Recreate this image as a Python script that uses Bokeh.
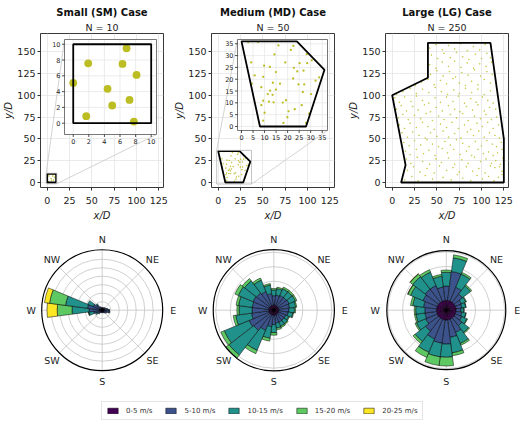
import math
from bokeh.plotting import figure
from bokeh.models import Range1d, FixedTicker, Title, Legend, LegendItem, ColumnDataSource
from bokeh.layouts import row, column
from bokeh.core.properties import value
from bokeh.embed import file_html
from bokeh.resources import INLINE

FONT = "DejaVu Sans"
OLIVE = "#bcbd22"

# ---------------- wind farm layouts (units of rotor diameter D) ----------------
sm_boundary_x = [0, 10, 10, 0]
sm_boundary_y = [0, 0, 10, 10]
sm_turbine_x = [6.84, 1.92, 6.32, 8.12, 0.0, 4.40, 5.0, 7.22, 1.67, 7.78]
sm_turbine_y = [9.49, 7.59, 7.51, 6.12, 5.1, 4.35, 2.24, 2.95, 0.89, 0.21]

md_boundary_x = [8, 28, 36, 24, 0]
md_boundary_y = [0, 0, 24, 36, 36]
md_turbine_x = [2.9, 7.2, 16.0, 21.4, 22.5, 14.3, 28.3, 4.2, 19.0, 9.8,
                12.3, 30.5, 25.2, 28.5, 14.9, 22.7, 33.7, 5.7, 9.4, 24.2,
                22.4, 26.9, 32.1, 4.4, 13.6, 16.7, 24.7, 27.2, 8.6, 12.4,
                14.9, 30.2, 26.6, 11.4, 13.5, 9.4, 11.9, 13.9, 8.6, 17.9,
                19.3, 26.1, 23.1, 10.0, 20.4, 29.3, 19.9, 9.4, 18.2, 28.0]
md_turbine_y = [35.7, 35.7, 34.3, 32.4, 34.1, 30.5, 30.6, 27.1, 27.1, 25.7,
                25.2, 28.0, 26.8, 26.8, 23.0, 24.8, 20.8, 21.6, 21.0, 23.3,
                20.3, 23.6, 19.4, 18.1, 18.5, 18.1, 17.8, 17.8, 16.6, 15.2,
                15.6, 13.7, 14.6, 13.7, 13.4, 10.9, 10.5, 10.2, 9.0, 10.1,
                11.1, 9.0, 7.3, 5.8, 6.4, 5.4, 3.9, 2.5, 1.5, 1.5]

lg_boundary_x = [10, 15, 0, 40, 40, 110, 125, 125]
lg_boundary_y = [0, 20, 100, 120, 160, 160, 50, 0]
lg_turbines = [
    (14, 3), (22, 7), (29, 2), (37, 8), (45, 4), (52, 1), (57, 6), (66, 3), (73, 9), (79, 5),
    (88, 2), (95, 8), (101, 4), (108, 7), (114, 2), (119, 6), (123, 9),
    (17, 14), (24, 18), (31, 12), (39, 16), (47, 11), (53, 19), (61, 14), (68, 17), (75, 12),
    (83, 18), (90, 13), (97, 16), (104, 11), (110, 19), (115, 17), (120, 18), (123, 13),
    (16, 27), (21, 22), (28, 29), (34, 24), (42, 21), (49, 27), (55, 23), (63, 28), (70, 21),
    (78, 26), (85, 22), (92, 29), (99, 24), (105, 27), (111, 22), (116, 25), (121, 21), (124, 28),
    (15, 36), (20, 32), (27, 38), (35, 33), (41, 37), (48, 31), (56, 39), (62, 34), (69, 38),
    (76, 32), (83, 36), (89, 31), (96, 38), (102, 33), (108, 35), (113, 31), (118, 34), (123, 38),
    (13, 46), (19, 42), (25, 48), (32, 43), (39, 49), (45, 44), (52, 41), (59, 47), (65, 43),
    (72, 49), (79, 45), (86, 41), (93, 47), (100, 42), (106, 48), (112, 44), (117, 41), (122, 46),
    (11, 57), (17, 52), (23, 58), (30, 54), (37, 51), (43, 57), (50, 53), (57, 59), (63, 52),
    (70, 56), (77, 51), (84, 58), (91, 54), (97, 59), (103, 52), (109, 57), (115, 54), (120, 51),
    (8, 66), (14, 62), (20, 68), (27, 63), (34, 69), (40, 64), (47, 61), (54, 67), (61, 63),
    (67, 69), (74, 62), (81, 66), (88, 61), (95, 68), (101, 64), (107, 69), (113, 62), (119, 66),
    (7, 74), (12, 78), (18, 72), (25, 77), (32, 73), (38, 79), (45, 71), (52, 76), (58, 72),
    (65, 78), (72, 74), (79, 79), (85, 71), (92, 76), (99, 73), (105, 78), (111, 72), (117, 75),
    (5, 84), (10, 88), (16, 82), (23, 87), (29, 83), (36, 89), (43, 81), (49, 86), (56, 82),
    (63, 88), (70, 84), (76, 81), (83, 87), (90, 83), (96, 89), (103, 82), (109, 86), (116, 84),
    (3, 97), (8, 92), (14, 98), (21, 93), (27, 99), (34, 94), (41, 91), (48, 97), (54, 92),
    (61, 98), (68, 93), (74, 99), (81, 91), (88, 96), (94, 92), (101, 98), (107, 94), (113, 91),
    (5, 101), (12, 104), (20, 108), (27, 102), (34, 107), (41, 103), (48, 109), (55, 104),
    (62, 101), (69, 106), (75, 102), (82, 108), (89, 103), (96, 107), (103, 101), (110, 105),
    (26, 111), (33, 115), (40, 118), (47, 112), (54, 117), (61, 113), (68, 119), (75, 114),
    (82, 111), (89, 116), (96, 112), (103, 118), (110, 114),
    (43, 124), (50, 128), (57, 122), (64, 127), (71, 121), (78, 126), (85, 123), (92, 129),
    (99, 122), (106, 127), (112, 124),
    (42, 135), (49, 131), (56, 138), (63, 133), (70, 139), (77, 132), (84, 137), (91, 131),
    (98, 136), (105, 133), (111, 138),
    (44, 146), (51, 142), (58, 148), (65, 143), (72, 149), (79, 144), (86, 141), (93, 147),
    (100, 142), (106, 148), (110, 143),
    (42, 154), (49, 158), (56, 152), (63, 157), (70, 153), (77, 159), (84, 151), (91, 156),
    (98, 152), (104, 158),
]
lg_turbine_x = [t[0] for t in lg_turbines]
lg_turbine_y = [t[1] for t in lg_turbines]

# ---------------- wind roses: frequency (%) per direction sector and speed bin ----------------
sectors_deg = [0, 15, 30, 45, 60, 75, 90, 105, 120, 135, 150, 165,
               180, 195, 210, 225, 240, 255, 270, 285, 300, 315, 330, 345]
speed_labels = ["0-5 m/s", "5-10 m/s", "10-15 m/s", "15-20 m/s", "20-25 m/s"]
speed_colors = ["#440154", "#3b528b", "#21918c", "#5ec962", "#fde725"]

sm_rose = [
    [0.3, 0.3, 0, 0, 0], [0.3, 0.3, 0, 0, 0], [0.3, 0.4, 0, 0, 0], [0.3, 0.5, 0, 0, 0],
    [0.3, 0.6, 0, 0, 0], [0.4, 0.9, 0, 0, 0], [0.5, 1.1, 0.1, 0, 0], [0.5, 1.2, 0.1, 0, 0],
    [0.4, 0.8, 0, 0, 0], [0.3, 0.6, 0, 0, 0], [0.3, 0.4, 0, 0, 0], [0.3, 0.3, 0, 0, 0],
    [0.3, 0.3, 0, 0, 0], [0.3, 0.3, 0, 0, 0], [0.3, 0.4, 0, 0, 0], [0.3, 0.6, 0.2, 0, 0],
    [0.4, 0.9, 0.4, 0, 0], [0.5, 1.5, 1.2, 0.1, 0], [0.7, 2.4, 4.0, 3.5, 2.4], [0.7, 2.8, 5.2, 3.8, 1.2],
    [0.5, 1.8, 1.4, 0, 0], [0.4, 1.2, 0.3, 0, 0], [0.3, 0.6, 0, 0, 0], [0.3, 0.4, 0, 0, 0],
]
md_rose = [
    [0.7, 1.3, 0.8, 0.2, 0], [0.7, 1.4, 0.9, 0.2, 0], [0.7, 1.5, 1.0, 0.25, 0], [0.7, 1.5, 1.0, 0.25, 0],
    [0.7, 1.6, 0.95, 0.2, 0], [0.7, 1.5, 0.85, 0.15, 0], [0.7, 1.4, 0.75, 0.15, 0], [0.7, 1.3, 0.65, 0.1, 0],
    [0.7, 1.1, 0.45, 0.1, 0], [0.7, 1.1, 0.55, 0.15, 0], [0.7, 1.1, 0.6, 0.2, 0], [0.7, 1.1, 0.7, 0.25, 0],
    [0.7, 1.3, 1.1, 0.35, 0], [0.7, 1.6, 1.6, 0.4, 0], [0.7, 2.3, 3.0, 0.5, 0], [0.7, 2.8, 4.3, 0.5, 0],
    [0.7, 3.0, 3.7, 0.5, 0], [0.7, 2.4, 2.2, 0.35, 0], [0.7, 2.3, 1.8, 0.3, 0], [0.7, 2.3, 1.9, 0.35, 0],
    [0.7, 2.4, 2.2, 0.5, 0], [0.7, 2.3, 2.1, 0.4, 0], [0.7, 2.1, 1.7, 0.3, 0], [0.7, 1.6, 1.2, 0.2, 0],
]
lg_rose = [
    [1.35, 1.95, 1.9, 0.3, 0], [1.35, 4.0, 1.9, 0.4, 0], [1.35, 2.05, 1.95, 0.25, 0], [1.35, 1.45, 1.4, 0.2, 0],
    [1.35, 0.9, 0.65, 0.1, 0], [1.35, 0.8, 0.55, 0.05, 0], [1.35, 0.65, 0.4, 0.05, 0], [1.35, 0.8, 0.55, 0.05, 0],
    [1.35, 0.95, 0.75, 0.1, 0], [1.35, 1.35, 1.15, 0.15, 0], [1.35, 1.95, 1.65, 0.25, 0], [1.35, 2.4, 2.15, 0.4, 0],
    [1.35, 3.3, 1.8, 1.2, 0], [1.35, 3.2, 1.9, 1.2, 0], [1.35, 2.9, 2.0, 0.75, 0], [1.35, 2.25, 1.8, 0.35, 0],
    [1.35, 1.7, 1.4, 0.2, 0], [1.35, 1.6, 1.25, 0.2, 0], [1.35, 1.6, 1.25, 0.2, 0], [1.35, 1.8, 1.5, 0.3, 0],
    [1.35, 2.1, 1.85, 0.4, 0.05], [1.35, 2.3, 2.15, 0.45, 0.05], [1.35, 2.3, 2.0, 0.35, 0], [1.35, 1.85, 1.5, 0.25, 0],
]
sm_rings = [2, 4, 6, 8, 10, 12]
md_rings = [2, 4, 6, 8]
lg_rings = [2, 4, 6, 8]

compass_names = ["N", "NE", "E", "SE", "S", "SW", "W", "NW"]
compass_deg = [0, 45, 90, 135, 180, 225, 270, 315]

sm_inset_ticks = [0, 2, 4, 6, 8, 10]
md_inset_ticks = [0, 5, 10, 15, 20, 25, 30, 35]

# ---------------- geometry of the page ----------------
TOP_H = 225
FW, FH = 123, 154
FRAME_TOP = 33
MAIN_XR = (-7.5, 130.2)
MAIN_YR = (-5.7, 170.7)
X_TICKS = [0, 25, 50, 75, 100, 125]
Y_TICKS = [0, 25, 50, 75, 100, 125, 150]
GRID = "#e4e4e4"


def main_panel(cell_w, frame_left, title, n_value, bx, by, tx, ty):
    p = figure(frame_width=FW, frame_height=FH,
               x_range=Range1d(*MAIN_XR), y_range=Range1d(*MAIN_YR),
               min_border_left=frame_left, min_border_right=cell_w - frame_left - FW,
               min_border_top=FRAME_TOP, min_border_bottom=TOP_H - FRAME_TOP - FH,
               toolbar_location=None, output_backend="svg",
               background_fill_color="white", border_fill_color="white")
    p.outline_line_color = "#222222"
    p.outline_line_width = 0.9
    p.xaxis.ticker = FixedTicker(ticks=X_TICKS)
    p.yaxis.ticker = FixedTicker(ticks=Y_TICKS)
    for ax in (p.xaxis[0], p.yaxis[0]):
        ax.axis_line_color = None
        ax.major_tick_line_color = "black"
        ax.major_tick_line_width = 0.8
        ax.major_tick_out = 3
        ax.major_tick_in = 0
        ax.minor_tick_line_color = None
        ax.major_label_text_font = FONT
        ax.major_label_text_font_size = "9.5px"
        ax.major_label_text_color = "#222222"
        ax.major_label_standoff = 3
        ax.axis_label_text_font = FONT
        ax.axis_label_text_font_style = "italic"
        ax.axis_label_text_font_size = "10px"
        ax.axis_label_text_color = "#222222"
    p.xaxis.axis_label = "x/D"
    p.yaxis.axis_label = "y/D"
    p.xaxis.major_label_standoff = 6
    p.xaxis.axis_label_standoff = 3
    p.yaxis.major_label_standoff = 2
    p.yaxis.axis_label_standoff = 0
    p.grid.grid_line_color = GRID
    p.grid.grid_line_width = 0.8

    # bold case name on top, turbine count just above the frame
    p.title.text = title
    p.title.align = "center"
    p.title.text_font = FONT
    p.title.text_font_size = "10px"
    p.title.text_font_style = "bold"
    p.title.text_color = "#111111"
    p.title.standoff = 1
    p.add_layout(Title(text="N = %d" % n_value, align="center", text_font=FONT,
                       text_font_size="9.5px", text_font_style="normal",
                       text_color="#222222", standoff=2), "above")

    p.circle(x=tx, y=ty, radius=0.5, fill_color=OLIVE, fill_alpha=0.85,
             line_color=OLIVE, line_alpha=0.6, line_width=1.0)
    p.patch(x=bx, y=by, fill_color=None, line_color="black", line_width=1.8)
    return p


def add_inset(p, frame_left, xr, yr, box, ticks, bx, by, tx, ty):
    """Zoomed view of the layout drawn inside panel p; box = frame left/top/width/height in px."""
    il, it, iw, ih = box
    sx = (MAIN_XR[1] - MAIN_XR[0]) / FW
    sy = (MAIN_YR[1] - MAIN_YR[0]) / FH
    ax_left = MAIN_XR[0] + (il - frame_left) * sx
    ax_right = MAIN_XR[0] + (il - frame_left + iw) * sx
    ay_top = MAIN_YR[1] - (it - FRAME_TOP) * sy
    ay_bot = MAIN_YR[1] - (it - FRAME_TOP + ih) * sy

    # zoom rectangle and connector lines in the panel's own coordinates
    p.quad(left=[xr[0]], right=[xr[1]], bottom=[yr[0]], top=[yr[1]], fill_color=None,
           line_color="#b5b5b5", line_width=0.8)
    p.segment(x0=[xr[0], xr[1]], y0=[yr[1], yr[0]], x1=[ax_left, ax_right], y1=[ay_top, ay_bot],
              line_color="#c8c8c8", line_width=0.8)

    sub = p.subplot(x_source=Range1d(*xr), y_source=Range1d(*yr),
                    x_target=Range1d(ax_left, ax_right), y_target=Range1d(ay_bot, ay_top))
    n = len(ticks)
    sub.quad(left=[xr[0]], right=[xr[1]], bottom=[yr[0]], top=[yr[1]],
             fill_color="white", line_color=None)
    sub.segment(x0=ticks, y0=[yr[0]] * n, x1=ticks, y1=[yr[1]] * n, line_color=GRID, line_width=0.7)
    sub.segment(x0=[xr[0]] * n, y0=ticks, x1=[xr[1]] * n, y1=ticks, line_color=GRID, line_width=0.7)
    sub.circle(x=tx, y=ty, radius=0.5, fill_color=OLIVE, line_color=None)
    sub.patch(x=bx, y=by, fill_color=None, line_color="black", line_width=1.8)
    sub.quad(left=[xr[0]], right=[xr[1]], bottom=[yr[0]], top=[yr[1]],
             fill_color=None, line_color="#555555", line_width=0.8)
    sub.ray(x=ticks, y=[yr[0]] * n, length=2.5, length_units="screen", angle=-math.pi / 2,
            line_color="black", line_width=0.7)
    sub.ray(x=[xr[0]] * n, y=ticks, length=2.5, length_units="screen", angle=math.pi,
            line_color="black", line_width=0.7)
    labels = [str(t) for t in ticks]
    sub.text(x=ticks, y=[yr[0]] * n, text=labels, y_offset=4, text_align="center",
             text_baseline="top", text_font=value(FONT), text_font_size="6.5px", text_color="#222222")
    sub.text(x=[xr[0]] * n, y=ticks, text=labels, x_offset=-4, text_align="right",
             text_baseline="middle", text_font=value(FONT), text_font_size="6.5px", text_color="#222222")


# Small case
p1 = main_panel(170, 40, "Small (SM) Case", 10, sm_boundary_x, sm_boundary_y, sm_turbine_x, sm_turbine_y)
add_inset(p1, 40, (-1.12, 10.68), (-1.43, 10.6), (64, 39, 92, 95), sm_inset_ticks,
          sm_boundary_x, sm_boundary_y, sm_turbine_x, sm_turbine_y)

# Medium case
p2 = main_panel(170, 41, "Medium (MD) Case", 50, md_boundary_x, md_boundary_y, md_turbine_x, md_turbine_y)
add_inset(p2, 41, (-1.74, 37.3), (-1.7, 36.8), (67, 39, 90, 91), md_inset_ticks,
          md_boundary_x, md_boundary_y, md_turbine_x, md_turbine_y)

# Large case
p3 = main_panel(180, 45, "Large (LG) Case", 250, lg_boundary_x, lg_boundary_y, lg_turbine_x, lg_turbine_y)

# ---------------- wind roses ----------------
ROSE_H = 173
ROSE_CY = 84.7
LABEL_R_PX = 71


def rose_panel(freqs, rings, ppu, r_px, width, cx):
    rmax = r_px / ppu
    p = figure(width=width, height=ROSE_H,
               x_range=Range1d(-cx / ppu, (width - cx) / ppu),
               y_range=Range1d(-(ROSE_H - ROSE_CY) / ppu, ROSE_CY / ppu),
               x_axis_type=None, y_axis_type=None, min_border=0,
               toolbar_location=None, output_backend="svg")
    p.outline_line_color = None
    p.circle(x=[0] * len(rings), y=[0] * len(rings), radius=rings, fill_color=None,
             line_color="#c4c4c4", line_width=0.8)
    p.ray(x=[0] * len(compass_deg), y=[0] * len(compass_deg), length=rmax,
          angle=[math.radians(90 - d) for d in compass_deg], line_color="#c4c4c4", line_width=0.8)

    half = 7.5
    data = dict(inner=[], outer=[], start=[], end=[], color=[])
    for d, vals in zip(sectors_deg, freqs):
        base = 0.0
        for v, c in zip(vals, speed_colors):
            if v > 0:
                data["inner"].append(base)
                data["outer"].append(base + v)
                data["start"].append(math.radians(90 - d - half))
                data["end"].append(math.radians(90 - d + half))
                data["color"].append(c)
                base += v
    p.annular_wedge(x=0, y=0, inner_radius="inner", outer_radius="outer",
                    start_angle="start", end_angle="end", fill_color="color",
                    line_color="black", line_width=0.5, source=ColumnDataSource(data))
    p.circle(x=[0], y=[0], radius=rmax, fill_color=None, line_color="black", line_width=1.2)

    lr = LABEL_R_PX / ppu
    p.text(x=[lr * math.sin(math.radians(d)) for d in compass_deg],
           y=[lr * math.cos(math.radians(d)) for d in compass_deg],
           text=compass_names, text_align="center", text_baseline="middle",
           text_font=value(FONT), text_font_size="9.5px", text_color="#222222")
    return p


r1 = rose_panel(sm_rose, sm_rings, 4.25, 60.5, 186, 101.7)
r2 = rose_panel(md_rose, md_rings, 7.25, 60.6, 172, 87.3)
r3 = rose_panel(lg_rose, lg_rings, 7.3, 59.5, 162, 87.8)

# ---------------- shared legend ----------------
lgf = figure(width=520, height=24, x_range=Range1d(0, 1), y_range=Range1d(0, 1),
             x_axis_type=None, y_axis_type=None, min_border=0,
             toolbar_location=None, output_backend="svg")
lgf.outline_line_color = None
nan = float("nan")
items = []
for lab, col in zip(speed_labels, speed_colors):
    r = lgf.quad(left=[nan], right=[nan], bottom=[nan], top=[nan], fill_color=col,
                 line_color="black", line_width=0.5)
    items.append(LegendItem(label=lab, renderers=[r]))
legend = Legend(items=items, orientation="horizontal", location=(101, 2),
                glyph_width=13, glyph_height=7, label_standoff=7, spacing=12,
                padding=4, margin=0, label_height=9,
                label_text_font=FONT, label_text_font_size="7px", label_text_color="#333333",
                border_line_color="#cccccc", border_line_width=0.8,
                background_fill_color="white", background_fill_alpha=1.0)
lgf.add_layout(legend)

layout = column(row(p1, p2, p3), row(r1, r2, r3), lgf)

open("out.html", "w").write(file_html(layout, INLINE))
